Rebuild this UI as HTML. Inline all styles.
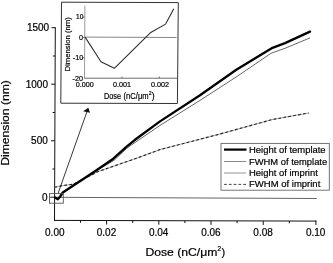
<!DOCTYPE html>
<html><head><meta charset="utf-8"><title>Dimension vs Dose</title>
<style>
html,body{margin:0;padding:0;background:#fff;}
body{width:333px;height:263px;overflow:hidden;}
svg{display:block;}
text{font-family:"Liberation Sans",sans-serif;fill:#000;stroke:#000;stroke-width:0.2px;}
</style></head><body>
<svg width="333" height="263" viewBox="0 0 333 263">
<rect x="0" y="0" width="333" height="263" fill="#fff"/>

<!-- main axes -->
<g stroke="#111" stroke-width="1" fill="none">
  <line x1="55.3" y1="27.2" x2="54.5" y2="221.1"/>
  <line x1="54" y1="220.4" x2="316.4" y2="221.1"/>
  <!-- y major ticks -->
  <line x1="51.50" y1="27.7" x2="55.30" y2="27.7"/>
  <line x1="51.26" y1="84.2" x2="55.06" y2="84.2"/>
  <line x1="51.03" y1="140.8" x2="54.83" y2="140.8"/>
  <line x1="50.80" y1="197.3" x2="54.60" y2="197.3"/>
  <!-- y minor ticks -->
  <line x1="52.88" y1="56" x2="55.18" y2="56"/>
  <line x1="52.65" y1="112.5" x2="54.95" y2="112.5"/>
  <line x1="52.41" y1="169" x2="54.71" y2="169"/>
  <!-- x major ticks -->
  <line x1="106.6" y1="220.54" x2="106.6" y2="224.54"/>
  <line x1="158.8" y1="220.68" x2="158.8" y2="224.68"/>
  <line x1="211" y1="220.82" x2="211" y2="224.82"/>
  <line x1="263.2" y1="220.96" x2="263.2" y2="224.96"/>
  <line x1="315.9" y1="220.6" x2="315.9" y2="225"/>
  <!-- x minor ticks -->
  <line x1="80.5" y1="220.47" x2="80.5" y2="222.77"/>
  <line x1="132.7" y1="220.61" x2="132.7" y2="222.91"/>
  <line x1="184.9" y1="220.75" x2="184.9" y2="223.05"/>
  <line x1="237.1" y1="220.89" x2="237.1" y2="223.19"/>
  <line x1="289.3" y1="221.03" x2="289.3" y2="223.33"/>
</g>
<!-- zero line -->
<line x1="49.6" y1="197.3" x2="316.8" y2="198.5" stroke="#666" stroke-width="1"/>

<!-- main tick labels -->
<g font-size="10" text-anchor="end">
  <text x="49.2" y="30.8">1500</text>
  <text x="48" y="87.6">1000</text>
  <text x="47.8" y="143.9">500</text>
  <text x="47.6" y="200.7">0</text>
</g>
<g font-size="10" text-anchor="middle">
  <text x="54.8" y="235.5">0.00</text>
  <text x="106.5" y="235.5">0.02</text>
  <text x="158.7" y="235.5">0.04</text>
  <text x="210.9" y="235.5">0.06</text>
  <text x="263.1" y="235.5">0.08</text>
  <text x="315.7" y="235.5">0.10</text>
</g>
<!-- axis titles -->
<text x="145.4" y="256.3" font-size="11" textLength="72" lengthAdjust="spacingAndGlyphs">Dose (nC/μm</text>
<text x="217.5" y="250.9" font-size="6.4">2</text>
<text x="221.6" y="256.3" font-size="11">)</text>
<text transform="translate(9.4,122.9) rotate(-90)" font-size="10.6" text-anchor="middle" textLength="85.6" lengthAdjust="spacingAndGlyphs">Dimension (nm)</text>

<!-- curves -->
<polyline fill="none" stroke="#999" stroke-width="0.9" points="54.6,187.3 62.3,185.6 72.8,184.3 94,173.8 98,171.6 135,158.8 160,149.6 220,134 272,119.6 308.6,113"/>
<polyline fill="none" stroke="#222" stroke-width="1.1" stroke-dasharray="2.7 2.3" points="54.6,187.3 62.3,185.6 72.8,184.3 94,173.8 98,171.6 135,158.8 160,149.6 220,134 272,119.6 308.6,113"/>
<polyline fill="none" stroke="#555" stroke-width="0.9" points="55,197.5 58,199 60,197 62.5,192.3 95,171.3 114,160.4 126.9,148.2 135,142.5 160,125.4 200,100.4 236,77.1 271,53.3 285,48.3 310,37.9"/>
<polyline fill="none" stroke="#000" stroke-width="2.3" stroke-linejoin="round" stroke-linecap="round" points="55.1,197.5 57.8,199.2 60.2,196.5 62.8,192.5 95,171.2 113.3,158.7 126.9,146.4 135,139.8 160,121.4 200,95.3 236.3,69.7 272.5,47.8 285,43.1 310,31.6"/>

<!-- small zoom box + arrow -->
<rect x="49.5" y="193.6" width="13.8" height="9.6" fill="none" stroke="#555" stroke-width="0.9"/>
<line x1="58.1" y1="193.3" x2="87" y2="111.5" stroke="#222" stroke-width="0.9"/>
<polygon points="88.3,107.8 83.1,111.3 90,112.8" fill="#111"/>

<!-- legend -->
<rect x="221" y="143.4" width="108.3" height="46.8" fill="#fff" stroke="#666" stroke-width="0.9"/>
<line x1="224" y1="149.6" x2="246.5" y2="149.6" stroke="#000" stroke-width="2.2"/>
<line x1="224" y1="161.5" x2="246" y2="161.5" stroke="#7a7a7a" stroke-width="0.9"/>
<line x1="224" y1="173" x2="246" y2="173" stroke="#888" stroke-width="0.9"/>
<line x1="224" y1="184.4" x2="246.5" y2="184.4" stroke="#333" stroke-width="0.9" stroke-dasharray="2.8 2"/>
<g font-size="9.8">
  <text x="249" y="153.4" textLength="76.6" lengthAdjust="spacingAndGlyphs">Height of template</text>
  <text x="249" y="164.5" textLength="78.2" lengthAdjust="spacingAndGlyphs">FWHM of template</text>
  <text x="249" y="175.8" textLength="68.8" lengthAdjust="spacingAndGlyphs">Height of imprint</text>
  <text x="249" y="187.3" textLength="71.3" lengthAdjust="spacingAndGlyphs">FWHM of imprint</text>
</g>

<!-- inset -->
<polygon points="61.5,2.2 178.3,2.6 177.4,103.5 60.8,103.2" fill="#fff" stroke="#333" stroke-width="1"/>
<g stroke="#555" stroke-width="0.85" fill="none">
  <line x1="84.9" y1="5.7" x2="84.5" y2="78.5" stroke="#888"/>
  <line x1="84.5" y1="78.2" x2="178" y2="78.2"/>
  <line x1="82.9" y1="17.1" x2="84.5" y2="17.1"/>
  <line x1="82.9" y1="37.4" x2="84.5" y2="37.4"/>
  <line x1="82.9" y1="57.8" x2="84.5" y2="57.8"/>
  <line x1="122" y1="76.6" x2="122" y2="78.2"/>
  <line x1="159.4" y1="76.6" x2="159.4" y2="78.2"/>
</g>
<line x1="84.7" y1="37.1" x2="176.5" y2="37.5" stroke="#777" stroke-width="0.9"/>
<polyline fill="none" stroke="#2a2a2a" stroke-width="1.05" stroke-linejoin="round" points="85.1,37.1 101,61.8 114.3,68.3 150.3,32.8 165.6,24.1 173.8,8.7"/>
<g font-size="7.2" text-anchor="end">
  <text x="83.3" y="19" textLength="7.3" lengthAdjust="spacingAndGlyphs">10</text>
  <text x="83.1" y="39.6">0</text>
  <text x="83.2" y="60.2">-10</text>
  <text x="83" y="80.6">-20</text>
</g>
<g font-size="7.2" text-anchor="middle">
  <text x="84.7" y="86.7">0.000</text>
  <text x="122" y="86.7">0.001</text>
  <text x="160" y="86.7">0.002</text>
</g>
<text x="104" y="98.8" font-size="8.6" textLength="17" lengthAdjust="spacingAndGlyphs">Dose</text>
<text x="123.6" y="98.8" font-size="8.6" textLength="25" lengthAdjust="spacingAndGlyphs">(nC/μm</text>
<text x="148.8" y="95.2" font-size="5.2">2</text>
<text x="151.7" y="98.8" font-size="8.6">)</text>
<text transform="translate(70.4,44.4) rotate(-90)" font-size="7.7" text-anchor="middle" textLength="54.3" lengthAdjust="spacingAndGlyphs">Dimension (nm)</text>
</svg>
</body></html>
